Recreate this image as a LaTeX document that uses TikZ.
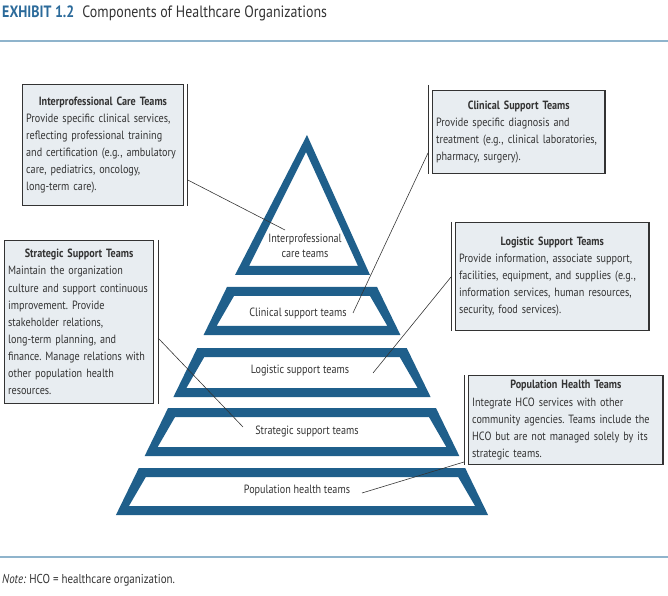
\documentclass[tikz,border=0pt]{standalone}
\usepackage{fontspec}
\setmainfont{PT Sans}[FakeStretch=0.85]
\definecolor{pyr}{HTML}{1F5F8B}
\definecolor{ttl}{HTML}{2B6A9A}
\definecolor{rule}{HTML}{8FB4CC}
\definecolor{boxfill}{HTML}{E8EDF1}
\definecolor{txt}{HTML}{333333}
\frenchspacing
\begin{document}
\begin{tikzpicture}[x=0.03cm,y=-0.03cm,
  cbox/.style={draw=txt,line width=1.1pt,fill=boxfill,anchor=north west,inner sep=3pt,
    font=\fontsize{10.2}{14.6}\selectfont,text=txt},
  lbl/.style={font=\fontsize{10.2}{15}\selectfont,text=txt,align=center},
  conn/.style={draw=txt,line width=0.5pt},
  sideline/.style={draw=txt,line width=0.8pt}]
\useasboundingbox (0,0) rectangle (668,596);
% title
\node[anchor=west,inner sep=0] (title) at (2,13) {\fontsize{14}{16}\selectfont\textcolor{ttl}{\bfseries EXHIBIT 1.2}\enspace\textcolor{txt}{Components of Healthcare Organizations}};
\draw[rule,line width=1.2pt] (0,41) -- (668,41);
\draw[rule,line width=1.2pt] (0,557) -- (668,557);
\node[anchor=west,inner sep=0,text=txt] (note) at (2,580) {\fontsize{11}{13}\selectfont\textit{Note:} HCO = healthcare organization.};
% pyramid
\def\cx{302}
\fill[pyr,even odd rule] (307,135) -- (235,275) -- (370,275) -- cycle
  (306,152) -- (249,266) -- (358,266) -- cycle;
\foreach \t/\b in {287/335,348/397,408/456,468/515}{
  \pgfmathsetmacro{\wt}{0.487*(\t-135)+1}
  \pgfmathsetmacro{\wb}{0.487*(\b-135)+1}
  \pgfmathsetmacro{\wti}{\wt-7}
  \pgfmathsetmacro{\wbi}{\wb-13}
  \fill[pyr,even odd rule] (\cx-\wt,\t) -- (\cx+\wt,\t) -- (\cx+\wb,\b) -- (\cx-\wb,\b) -- cycle
    (\cx-\wti,\t+9) -- (\cx+\wti,\t+9) -- (\cx+\wbi,\b-9) -- (\cx-\wbi,\b-9) -- cycle;
}
\node[lbl] (l1) at (305,246) {Interprofessional\\[-2pt]care teams};
\node[lbl] (l2) at (298,313) {Clinical support teams};
\node[lbl] (l3) at (300,371) {Logistic support teams};
\node[lbl] (l4) at (307,432) {Strategic support teams};
\node[lbl] (l5) at (297,490) {Population health teams};
% boxes
\node[cbox,text width=131pt,minimum height=103pt] (b1) at (22,84) {{\centering\bfseries Interprofessional Care Teams\par}\raggedright Provide specific clinical services, reflecting professional training and certification (e.g., ambulatory care, pediatrics, oncology, long-term care).\par};
\node[cbox,text width=121pt,minimum height=139pt] (b2) at (4,240) {{\centering\bfseries Strategic Support Teams\par}\raggedright Maintain the organization culture and support continuous improvement. Provide stakeholder relations, long-term planning, and finance. Manage relations with other population health resources.\par};
\node[cbox,text width=141pt,minimum height=71pt] (b3) at (432,90) {{\centering\bfseries Clinical Support Teams\par}\raggedright Provide specific diagnosis and treatment (e.g., clinical laboratories, pharmacy, surgery).\par};
\node[cbox,text width=159pt,minimum height=92pt] (b4) at (455,222) {{\centering\bfseries Logistic Support Teams\par}\raggedright Provide information, associate support, facilities, equipment, and supplies (e.g., information services, human resources, security, food services).\par};
\node[cbox,text width=160pt,minimum height=76pt] (b5) at (468,375) {{\centering\bfseries Population Health Teams\par}\raggedright Integrate HCO services with other community agencies. Teams include the HCO but are not managed solely by its strategic teams.\par};
% side lines
\draw[sideline] ([xshift=4*0.03cm]b1.north east) -- ([xshift=4*0.03cm]b1.south east);
\draw[sideline] ([xshift=4*0.03cm]b2.north east) -- ([xshift=4*0.03cm]b2.south east);
\draw[sideline] ([xshift=-4*0.03cm,yshift=5*0.03cm]b3.north west) -- ([xshift=-4*0.03cm]b3.south west);
\draw[sideline] ([xshift=-4*0.03cm]b4.north west) -- ([xshift=-4*0.03cm]b4.south west);
\draw[sideline] ([xshift=-4*0.03cm]b5.north west) -- ([xshift=-4*0.03cm]b5.south west);
% connectors
\coordinate (e1) at (285,230);
\coordinate (e2) at (243,427);
\coordinate (e3) at (353,313);
\coordinate (e4) at (373,373);
\coordinate (e5) at (362,493);
\draw[conn] ([xshift=4*0.03cm]b1.east |- 0,180) -- (e1);
\draw[conn] ([xshift=4*0.03cm]b2.east |- 0,338) -- (e2);
\draw[conn] ([xshift=-4*0.03cm]b3.west |- 0,153) -- (e3);
\draw[conn] ([xshift=-4*0.03cm]b4.west |- 0,277) -- (e4);
\draw[conn] ([xshift=-4*0.03cm]b5.west |- 0,462) -- (e5);
\end{tikzpicture}
\end{document}
